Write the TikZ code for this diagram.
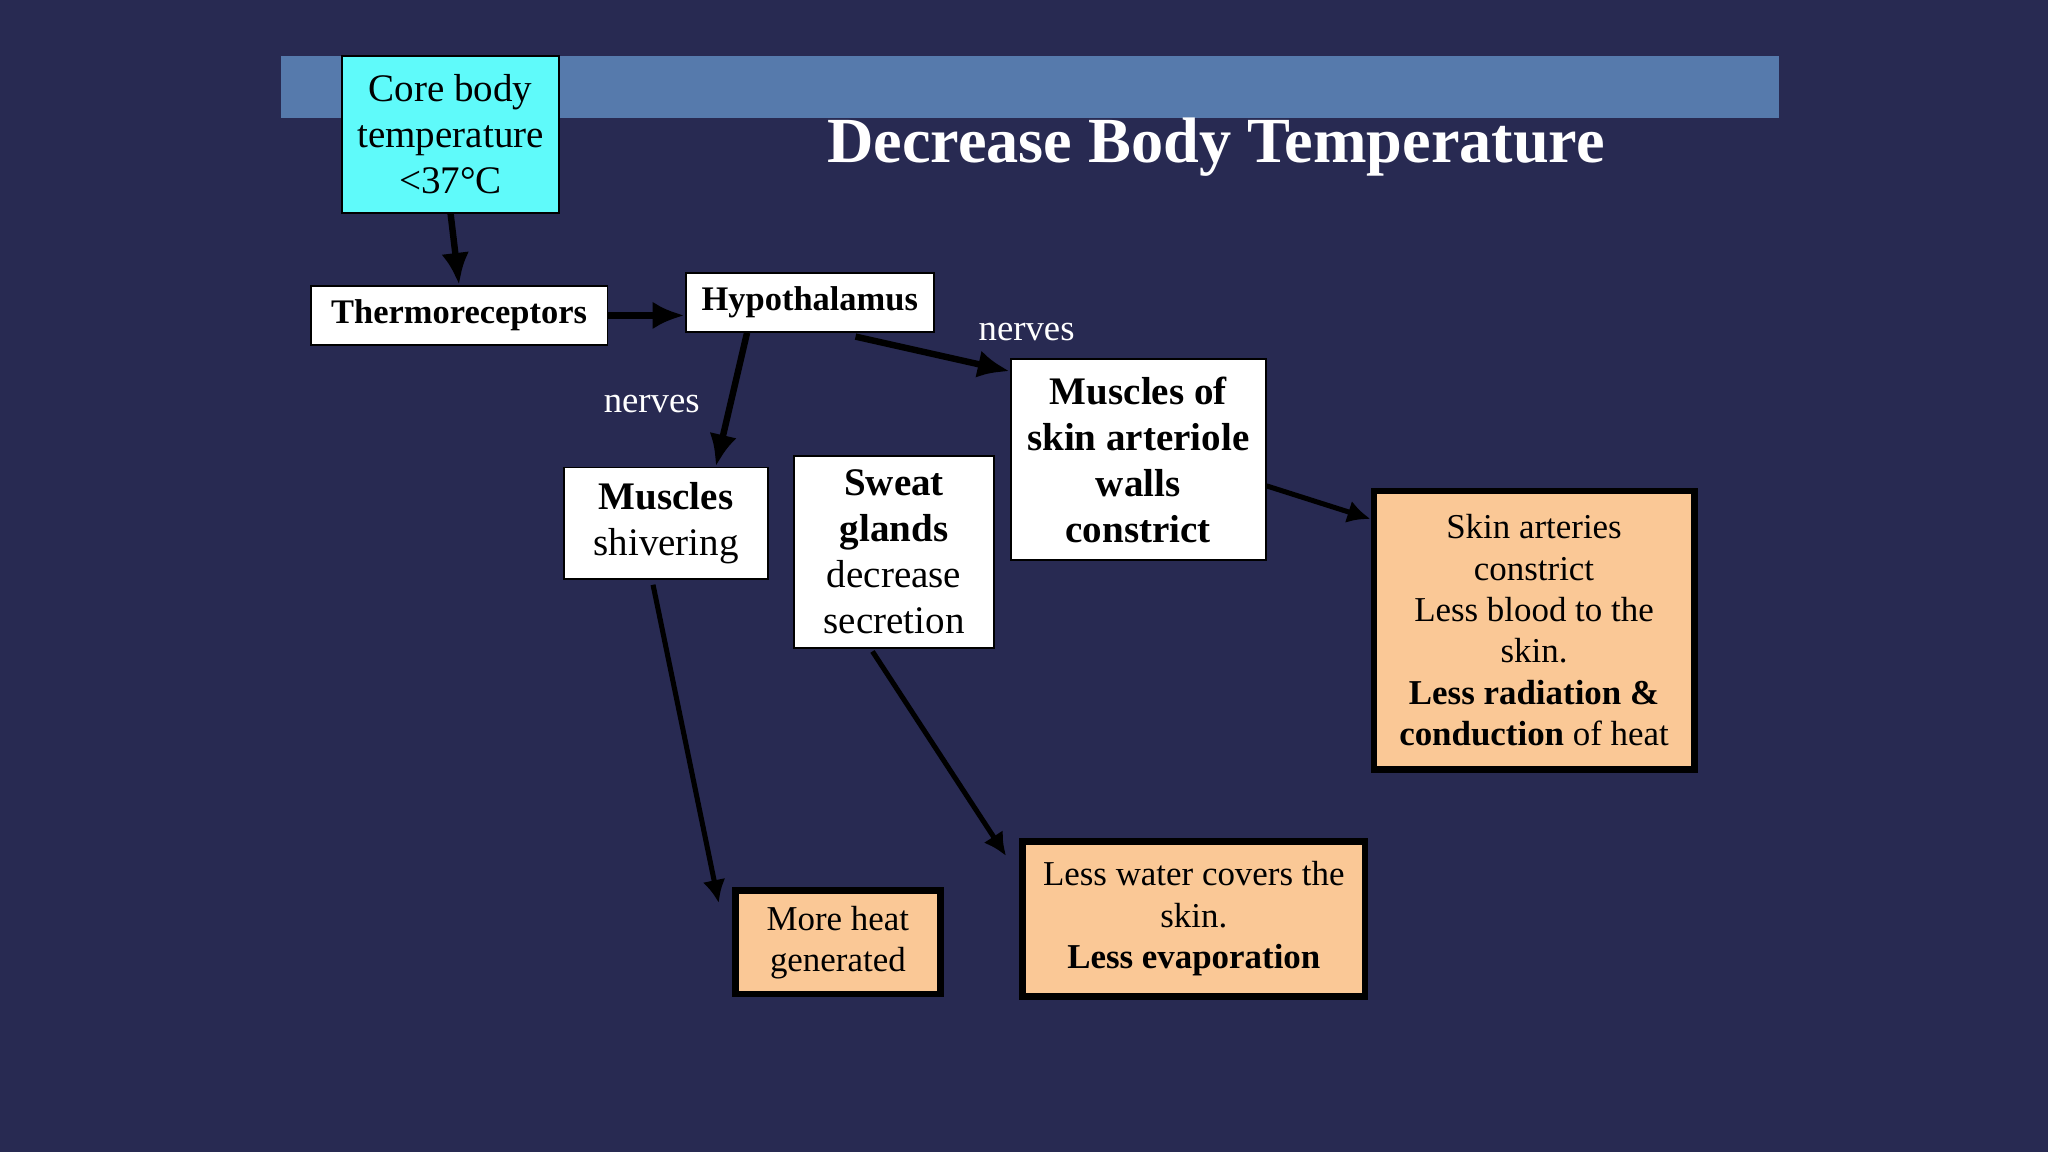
\documentclass[tikz,border=0pt]{standalone}
\usepackage{fontspec}
\setmainfont{Liberation Serif}
\usetikzlibrary{arrows.meta}
\definecolor{bgc}{RGB}{40,42,82}
\definecolor{barc}{RGB}{86,122,172}
\definecolor{cyanc}{RGB}{95,250,250}
\definecolor{orc}{RGB}{250,200,150}
\begin{document}
\begin{tikzpicture}[x=0.01cm,y=-0.01cm,
  box/.style={draw=black,fill=white,align=center,inner sep=0pt,font=\fontsize{8.5}{10}\selectfont},
  obox/.style={draw=black,line width=1.5pt,fill=orc,align=center,inner sep=0pt,font=\fontsize{7.6}{9}\selectfont},
  arr/.style={-{Latex[length=7pt,width=6pt]},line width=1.4pt,black},
  tarr/.style={-{Latex[length=5pt,width=5pt]},line width=1.1pt,black},
  lbl/.style={text=white,font=\fontsize{8}{9}\selectfont}]
\fill[bgc] (0,0) rectangle (1568,882);
\useasboundingbox (0,0) rectangle (1568,882);
\fill[barc] (215,43) rectangle (1362,90);
\node[text=white,font=\fontsize{14}{16}\selectfont\bfseries] (title) at (931,113) {Decrease Body Temperature};
\node[box,fill=cyanc,minimum width=1.66cm,minimum height=1.20cm] (core) at (345,103) {Core body\\temperature\\<37°C};
\node[box,minimum width=2.27cm,minimum height=0.45cm,font=\fontsize{7.5}{9}\selectfont\bfseries] (thermo) at (351.5,241.5) {Thermoreceptors};
\node[box,minimum width=1.90cm,minimum height=0.45cm,font=\fontsize{7.5}{9}\selectfont\bfseries] (hypo) at (620,231.5) {Hypothalamus};
\node[box,minimum width=1.56cm,minimum height=0.85cm] (shiv) at (510,400.5) {\textbf{Muscles}\\shivering};
\node[box,minimum width=1.53cm,minimum height=1.47cm] (sweat) at (684.5,422.5) {\textbf{Sweat}\\\textbf{glands}\\decrease\\secretion};
\node[box,minimum width=1.95cm,minimum height=1.54cm,font=\fontsize{8.5}{10}\selectfont\bfseries] (skin) at (871.5,352) {Muscles of\\skin arteriole\\walls\\constrict};
\node[obox,minimum width=2.45cm,minimum height=2.13cm] (art) at (1174.5,482.5) {Skin arteries\\constrict\\Less blood to the\\skin.\\\textbf{Less radiation \&}\\\textbf{conduction} of heat};
\node[obox,minimum width=2.62cm,minimum height=1.19cm] (water) at (914,703.5) {Less water covers the\\skin.\\\textbf{Less evaporation}};
\node[obox,minimum width=1.57cm,minimum height=0.79cm] (heat) at (641.5,721.5) {More heat\\generated};
\node[lbl] (n1) at (786,254) {nerves};
\node[lbl] (n2) at (499,309) {nerves};
\draw[arr] (core.south) -- (thermo.north);
\draw[arr] (thermo.east) -- (hypo.west |- thermo.east);
\draw[arr] ([xshift=-0.48cm]hypo.south) -- ([xshift=0.38cm]shiv.north);
\draw[arr] ([xshift=0.35cm,yshift=-0.03cm]hypo.south) -- ([yshift=-0.10cm]skin.north west);
\draw[tarr] ([yshift=-0.2cm]skin.east) -- ([yshift=-0.24cm]art.north west);
\draw[tarr] ([xshift=-0.10cm,yshift=-0.04cm]shiv.south) -- ([xshift=-0.10cm,yshift=-0.12cm]heat.north west);
\draw[tarr] ([xshift=-0.165cm,yshift=-0.02cm]sweat.south) -- ([xshift=-0.10cm,yshift=-0.14cm]water.north west);
\end{tikzpicture}
\end{document}
